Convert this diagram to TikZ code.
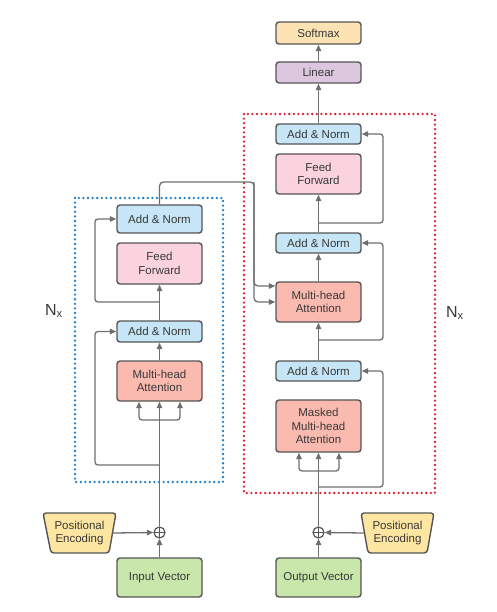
\documentclass[tikz,border=0pt]{standalone}
\usepackage{fontspec}
\setmainfont{Liberation Sans}
\usetikzlibrary{arrows.meta,calc,positioning}
\definecolor{anfill}{HTML}{C6E5F6}
\definecolor{fffill}{HTML}{FAD3DF}
\definecolor{mhfill}{HTML}{FBBAAF}
\definecolor{pefill}{HTML}{FDE5A2}
\definecolor{ivfill}{HTML}{C9E6AB}
\definecolor{smfill}{HTML}{FDE2B4}
\definecolor{lnfill}{HTML}{DCC7DF}
\definecolor{bord}{HTML}{555555}
\definecolor{conn}{HTML}{6E6E6E}
\definecolor{txt}{HTML}{383838}
\definecolor{dotblue}{HTML}{1F7EC4}
\definecolor{dotred}{HTML}{D8222F}
\tikzset{
  blk/.style={draw=bord, line width=1.4pt, rounded corners=3pt, minimum width=85pt,
    inner sep=0pt, align=center, text=txt, font=\fontsize{11.5}{13.5}\selectfont},
  anbox/.style={blk, fill=anfill},
  ffbox/.style={blk, fill=fffill},
  mhbox/.style={blk, fill=mhfill},
  ivbox/.style={blk, fill=ivfill},
  arr/.style={draw=conn, line width=1.3pt, -{Triangle[length=6.5pt,width=5.5pt]}},
  ln/.style={draw=conn, line width=1.3pt},
  plusnode/.style={circle, draw=bord, line width=1.2pt, minimum size=11pt, inner sep=0pt,
    path picture={\draw[bord,line width=1.1pt] (path picture bounding box.north) -- (path picture bounding box.south)
      (path picture bounding box.west) -- (path picture bounding box.east);}},
  petext/.style={text=txt, align=center, font=\fontsize{11.5}{13.5}\selectfont, inner sep=0pt, minimum width=66pt, minimum height=40pt},
  petrap/.style={draw=bord, line width=1.4pt, rounded corners=3pt, fill=pefill},
  dotbox/.style={line width=2.6pt, line cap=round, dash pattern=on 0pt off 4.6pt},
  nxlab/.style={text=txt, font=\fontsize{16}{18}\selectfont, inner sep=0pt}
}
\begin{document}
\begin{tikzpicture}[x=1pt,y=-1pt]
\useasboundingbox (0,0) rectangle (497,612);
% dotted frames
\draw[dotbox, dotblue] (75,198) rectangle (223,482);
\draw[dotbox, dotred] (244,114) rectangle (435,493);
% encoder
\node[anbox, minimum height=28pt] (encAN2) at (159.5,219) {Add \& Norm};
\node[ffbox, minimum height=41pt] (encFF) at (159.5,263.5) {Feed\\Forward};
\node[anbox, minimum height=21pt] (encAN1) at (159.5,331.5) {Add \& Norm};
\node[mhbox, minimum height=40pt] (encMHA) at (159.5,381) {Multi-head\\Attention};
% decoder
\node[blk, fill=smfill, minimum height=22pt] (soft) at (318.5,33) {Softmax};
\node[blk, fill=lnfill, minimum height=21pt] (lin) at (318.5,72.5) {Linear};
\node[anbox, minimum height=20pt] (decAN3) at (318.5,134) {Add \& Norm};
\node[ffbox, minimum height=40pt] (decFF) at (318.5,174) {Feed\\Forward};
\node[anbox, minimum height=20pt] (decAN2) at (318.5,243) {Add \& Norm};
\node[mhbox, minimum height=40pt] (decMHA) at (318.5,302) {Multi-head\\Attention};
\node[anbox, minimum height=20pt] (decAN1) at (318.5,371) {Add \& Norm};
\node[mhbox, minimum height=52pt] (decMMHA) at (318.5,426) {Masked\\Multi-head\\Attention};
% inputs
\node[ivbox, minimum height=39pt] (inV) at (159.5,577.5) {Input Vector};
\node[ivbox, minimum height=39pt] (outV) at (318.5,577.5) {Output Vector};
\node[plusnode] (plusL) at (159.5,532.5) {};
\node[plusnode] (plusR) at (318.5,532.5) {};
\draw[petrap] (43,513) -- (116,513) -- (109,553) -- (51,553) -- cycle;
\draw[petrap] (361,513) -- (434,513) -- (427,553) -- (368,553) -- cycle;
\node[petext] (peL) at (79.5,533) {Positional\\Encoding};
\node[petext] (peR) at (397.5,533) {Positional\\Encoding};
% Nx labels
\node[nxlab] (nxL) at (54,311) {N\textsubscript{x}};
\node[nxlab] (nxR) at (455,313) {N\textsubscript{x}};
% helper coordinates
\coordinate (exL) at (95,0);
\coordinate (exR) at (383,0);
\coordinate (ebr) at (159.5,420);
\coordinate (er1) at (159.5,465);
\coordinate (er2) at (159.5,302);
\coordinate (kx) at (254,182);
\coordinate (dbr) at (318.5,471);
\coordinate (dr1) at (318.5,487);
\coordinate (dr2) at (318.5,340);
\coordinate (dr3) at (318.5,223);
% encoder connectors
\draw[arr] (inV.north) -- (plusL.south);
\draw[arr] (peL.east) -- (plusL.west);
\draw[arr] (plusL.north) -- (encMHA.south);
\draw[arr, rounded corners=3pt] (ebr) -| ([xshift=-20.5pt]encMHA.south);
\draw[arr, rounded corners=3pt] (ebr) -| ([xshift=20.5pt]encMHA.south);
\draw[arr, rounded corners=3pt] (er1) -- (er1 -| exL) |- (encAN1.west);
\draw[arr] (encMHA.north) -- (encAN1.south);
\draw[arr] (encAN1.north) -- (encFF.south);
\draw[arr, rounded corners=3pt] (er2) -- (er2 -| exL) |- (encAN2.west);
% cross connection
\draw[arr, rounded corners=4pt] (encAN2.north) |- (kx) |- (decMHA.west);
\draw[arr, rounded corners=4pt] (kx) |- ([yshift=16pt]decMHA.west);
% decoder connectors
\draw[arr] (outV.north) -- (plusR.south);
\draw[arr] (peR.west) -- (plusR.east);
\draw[arr] (plusR.north) -- (decMMHA.south);
\draw[arr, rounded corners=3pt] (dbr) -| ([xshift=-19.5pt]decMMHA.south);
\draw[arr, rounded corners=3pt] (dbr) -| ([xshift=20.5pt]decMMHA.south);
\draw[arr, rounded corners=3pt] (dr1) -- (dr1 -| exR) |- (decAN1.east);
\draw[arr] (decAN1.north) -- (decMHA.south);
\draw[arr, rounded corners=3pt] (dr2) -- (dr2 -| exR) |- (decAN2.east);
\draw[arr] (decMHA.north) -- (decAN2.south);
\draw[arr] (decAN2.north) -- (decFF.south);
\draw[arr, rounded corners=3pt] (dr3) -- (dr3 -| exR) |- (decAN3.east);
\draw[arr] (decAN3.north) -- (lin.south);
\draw[arr] (lin.north) -- (soft.south);
\end{tikzpicture}
\end{document}
